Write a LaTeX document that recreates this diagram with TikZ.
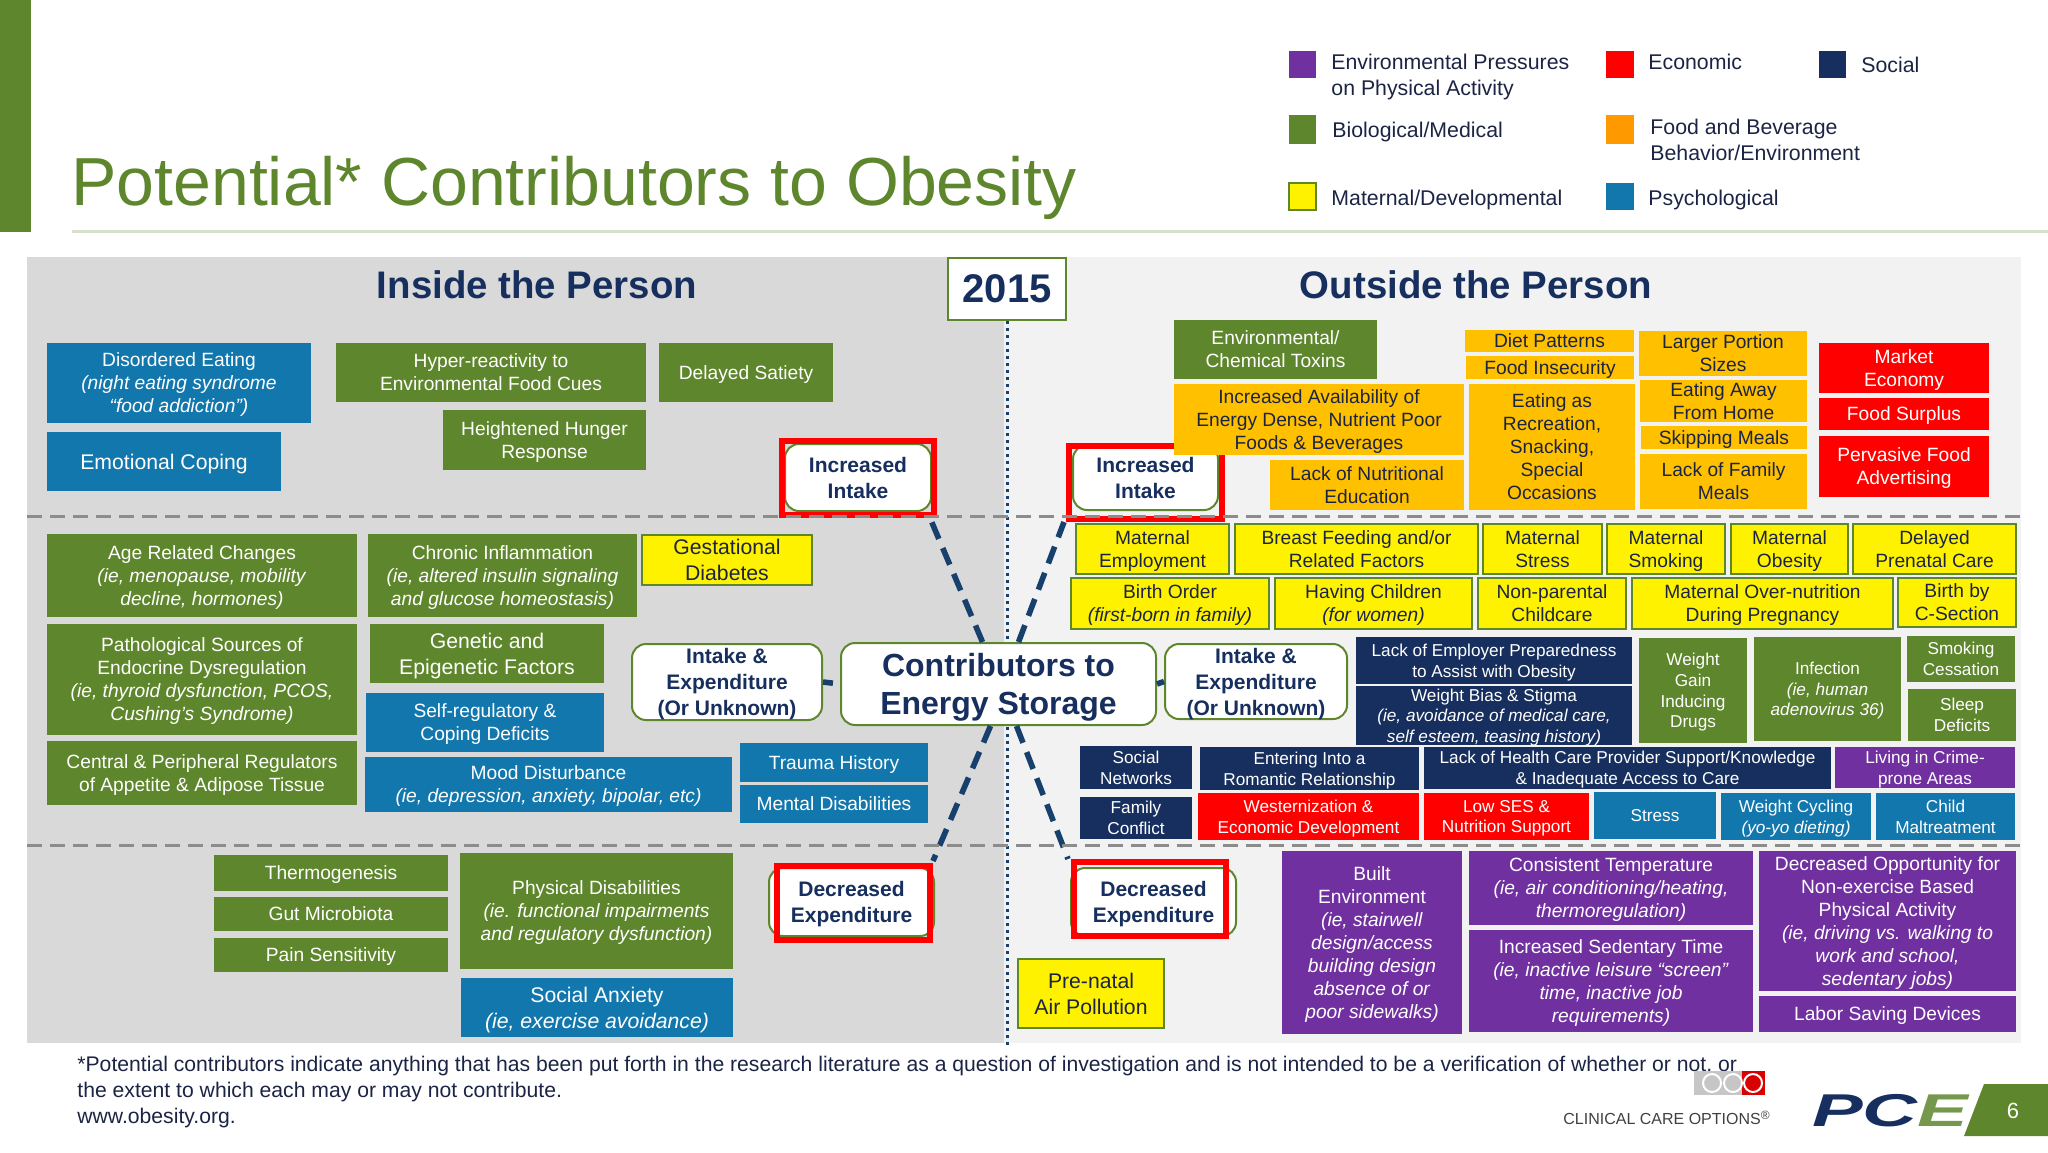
\documentclass[tikz,border=0pt]{standalone}
\usepackage{fontspec}
\usepackage{graphicx}
\setmainfont{Liberation Sans}
\definecolor{pcegreen}{HTML}{5E862C}
\definecolor{psyblue}{HTML}{1277AD}
\definecolor{socnavy}{HTML}{172F5E}
\definecolor{foodorange}{HTML}{FFC000}
\definecolor{envpurple}{HTML}{7030A0}
\definecolor{inkdark}{HTML}{1B2444}
\definecolor{linkblue}{HTML}{17406D}
\usetikzlibrary{positioning}

\begin{document}
\begin{tikzpicture}[
    x=0.5pt, y=-0.5pt,
    span/.style args={#1/#2/#3/#4}{at={({(#1+#3)/2},{(#2+#4)/2})}, minimum width={(#3-#1)*0.5pt}, minimum height={(#4-#2)*0.5pt}},
    box/.style={rectangle, inner sep=0pt, align=center, text=white, text depth=-0.5pt, font=\fontsize{9.6}{11.5}\selectfont},
    fssmall/.style={font=\fontsize{8.6}{10.3}\selectfont},
    fsbig/.style={font=\fontsize{10.6}{13}\selectfont},
    greenbox/.style={box, fill=pcegreen},
    bluebox/.style={box, fill=psyblue},
    navybox/.style={box, fill=socnavy},
    redbox/.style={box, fill=red},
    purplebox/.style={box, fill=envpurple},
    orangebox/.style={box, fill=foodorange, text=inkdark},
    yellowbox/.style={box, fill=yellow, draw=pcegreen, line width=1pt, text=inkdark},
    hub/.style={box, fill=white, draw=pcegreen, line width=1pt, rounded corners=7pt, text=socnavy, font=\fontsize{10.5}{13}\selectfont\bfseries},
    redframe/.style={rectangle, draw=red, line width=3pt, inner sep=0pt},
    swatch/.style={rectangle, inner sep=0pt},
    legendtext/.style={anchor=west, align=left, inner sep=0pt, text=inkdark, font=\fontsize{10.65}{13}\selectfont},
    headline/.style={inner sep=0pt, text=socnavy, font=\fontsize{19.2}{22}\selectfont\bfseries},
    dashlink/.style={draw=linkblue, line width=2.8pt, dash pattern=on 9pt off 5pt},
    stublink/.style={draw=linkblue, line width=2.8pt, dash pattern=on 5pt off 8pt},
    zoneline/.style={draw=gray!90, line width=1.5pt, dash pattern=on 7.5pt off 4pt}
]
\useasboundingbox (0,0) rectangle (2048,1152);

% header
\node[swatch, fill=pcegreen, span=0/0/31/232] (sidebar) {};
\node[anchor=base west, inner sep=0pt, text=pcegreen, font=\fontsize{34}{40}\selectfont] (title) at (71,205) {Potential* Contributors to Obesity};
\coordinate (ruleA) at (72,231);
\coordinate (ruleB) at (2048,231);
\draw[pcegreen!25, line width=1.5pt] (ruleA) -- (ruleB);

% legend
\node[swatch, fill=envpurple, span=1289/51/1316/78] (keyenv) {};
\node[legendtext] (keyenvtext) at (1331,77) {Environmental Pressures\\on Physical Activity};
\node[swatch, fill=red, span=1606/51/1634/78] (keyeco) {};
\node[legendtext] (keyecotext) at (1648,62) {Economic};
\node[swatch, fill=socnavy, span=1819/51/1846/78] (keysoc) {};
\node[legendtext] (keysoctext) at (1861,65) {Social};
\node[swatch, fill=pcegreen, span=1289/115/1316/144] (keybio) {};
\node[legendtext] (keybiotext) at (1332,132) {Biological/Medical};
\node[swatch, fill=orange!80!yellow, span=1606/115/1634/144] (keyfood) {};
\node[legendtext] (keyfoodtext) at (1650,140) {Food and Beverage\\Behavior/Environment};
\node[swatch, fill=yellow, draw=pcegreen, line width=1pt, span=1289/183/1316/210] (keymat) {};
\node[legendtext] (keymattext) at (1331,200) {Maternal/Developmental};
\node[swatch, fill=psyblue, span=1606/183/1634/210] (keypsy) {};
\node[legendtext] (keypsytext) at (1648,200) {Psychological};

% panels
\node[swatch, fill=gray!30, span=27/257/1004/1043] (panelin) {};
\node[swatch, fill=gray!10, span=1004/257/2021/1043] (panelout) {};
\node[headline] (insidehead) at (537,285) {Inside the Person};
\node[headline] (outsidehead) at (1476,285) {Outside the Person};
\node[box, fill=white, draw=pcegreen, line width=1pt, text=socnavy, font=\fontsize{20}{22}\selectfont\bfseries, span=948/258/1066/320] (yearbox) {2015};
\coordinate (dotend) at (1007,1046);
\draw[linkblue, line width=1.5pt, dotted] (yearbox.south) -- (dotend);

% centre
\node[hub, text depth=-1pt, font=\fontsize{16}{19}\selectfont\bfseries, span=841/643/1156/725] (contrib) {Contributors to\\Energy Storage};
\node[hub, span=632/644/822/720] (mixleft) {Intake \&\\Expenditure\\(Or Unknown)};
\node[hub, span=1165/644/1347/719] (mixright) {Intake \&\\Expenditure\\(Or Unknown)};
\node[hub, span=785/444/931/511] (intakeleft) {Increased\\Intake};
\node[hub, span=1073/445/1218/510] (intakeright) {Increased\\Intake};
\node[hub, text depth=0.5pt, span=769/868/934/936] (spendleft) {Decreased\\Expenditure};
\node[hub, text depth=0.5pt, span=1071/868/1236/936] (spendright) {Decreased\\Expenditure};
\node[redframe, span=782/441/934/515] (frameinl) {};
\node[redframe, span=1069/446/1222/519] (frameinr) {};
\node[redframe, span=777/866/930/940] (framespl) {};
\node[redframe, span=1074/862/1226/936] (framespr) {};

\draw[stublink] (mixleft.east) -- (contrib.west);
\draw[stublink] (contrib.east) -- (mixright.west);
\draw[dashlink] ([xshift=-8pt]contrib.north) -- ([xshift=-3.5pt]frameinl.south east);
\draw[dashlink] ([xshift=10pt]contrib.north) -- ([xshift=-1pt]frameinr.south west);
\draw[dashlink] ([xshift=-4pt]contrib.south) -- ([yshift=1pt]framespl.north east);
\draw[dashlink] ([xshift=9pt]contrib.south) -- ([xshift=-1.5pt]framespr.north west);

\coordinate (zoneAl) at (27,516);
\coordinate (zoneAr) at (2021,516);
\coordinate (zoneBl) at (27,845);
\coordinate (zoneBr) at (2021,845);
\draw[zoneline] (zoneAl) -- (zoneAr);
\draw[zoneline] (zoneBl) -- (zoneBr);

% inside, top
\node[bluebox, span=47/343/311/423] (disordered) {Disordered Eating\\\textit{(night eating syndrome}\\\textit{“food addiction”)}};
\node[bluebox, fsbig, span=47/432/281/491] (emotional) {Emotional Coping};
\node[greenbox, span=336/343/646/402] (hyper) {Hyper-reactivity to\\Environmental Food Cues};
\node[greenbox, span=659/343/833/402] (satiety) {Delayed Satiety};
\node[greenbox, span=443/410/646/470] (hunger) {Heightened Hunger\\Response};

% inside, middle
\node[greenbox, span=47/534/357/617] (age) {Age Related Changes\\\textit{(ie, menopause, mobility}\\\textit{decline, hormones)}};
\node[greenbox, span=368/534/637/617] (chronic) {Chronic Inflammation\\\textit{(ie, altered insulin signaling}\\\textit{and glucose homeostasis)}};
\node[yellowbox, fsbig, span=642/535/812/585] (gestational) {Gestational\\Diabetes};
\node[greenbox, span=47/624/357/735] (endocrine) {Pathological Sources of\\Endocrine Dysregulation\\\textit{(ie, thyroid dysfunction, PCOS,}\\\textit{Cushing’s Syndrome)}};
\node[greenbox, fsbig, span=370/624/604/683] (genetic) {Genetic and\\Epigenetic Factors};
\node[bluebox, span=366/693/604/752] (selfreg) {Self-regulatory \&\\Coping Deficits};
\node[greenbox, span=47/741/357/805] (central) {Central \& Peripheral Regulators\\of Appetite \& Adipose Tissue};
\node[bluebox, span=365/757/732/812] (mood) {Mood Disturbance\\\textit{(ie, depression, anxiety, bipolar, etc)}};
\node[bluebox, span=740/743/928/782] (trauma) {Trauma History};
\node[bluebox, span=740/785/928/823] (mental) {Mental Disabilities};

% inside, bottom
\node[greenbox, span=214/855/448/891] (thermo) {Thermogenesis};
\node[greenbox, span=214/897/448/931] (gut) {Gut Microbiota};
\node[greenbox, span=214/938/448/972] (pain) {Pain Sensitivity};
\node[greenbox, span=460/853/733/969] (physdis) {Physical Disabilities\\\textit{(ie. functional impairments}\\\textit{and regulatory dysfunction)}};
\node[bluebox, fsbig, span=461/978/733/1037] (anxiety) {Social Anxiety\\\textit{(ie, exercise avoidance)}};

% outside, top
\node[greenbox, span=1174/320/1377/379] (toxins) {Environmental/\\Chemical Toxins};
\node[orangebox, span=1174/384/1464/455] (availability) {Increased Availability of\\Energy Dense, Nutrient Poor\\Foods \& Beverages};
\node[orangebox, span=1270/460/1464/510] (nutrition) {Lack of Nutritional\\Education};
\node[orangebox, span=1465/330/1634/352] (diet) {Diet Patterns};
\node[orangebox, span=1466/356/1634/379] (insecurity) {Food Insecurity};
\node[orangebox, span=1469/384/1635/510] (recreation) {Eating as\\Recreation,\\Snacking,\\Special\\Occasions};
\node[orangebox, span=1639/331/1807/376] (portion) {Larger Portion\\Sizes};
\node[orangebox, span=1640/380/1807/422] (away) {Eating Away\\From Home};
\node[orangebox, span=1641/426/1807/449] (skipping) {Skipping Meals};
\node[orangebox, span=1640/454/1807/509] (family) {Lack of Family\\Meals};
\node[redbox, span=1819/343/1989/393] (market) {Market\\Economy};
\node[redbox, span=1819/398/1989/430] (surplus) {Food Surplus};
\node[redbox, span=1819/436/1989/497] (pervasive) {Pervasive Food\\Advertising};

% outside, maternal
\node[yellowbox, span=1076/524/1229/574] (employment) {Maternal\\Employment};
\node[yellowbox, span=1235/524/1478/574] (breast) {Breast Feeding and/or\\Related Factors};
\node[yellowbox, span=1483/524/1602/574] (matstress) {Maternal\\Stress};
\node[yellowbox, span=1607/524/1725/574] (matsmoking) {Maternal\\Smoking};
\node[yellowbox, span=1731/524/1848/574] (matobesity) {Maternal\\Obesity};
\node[yellowbox, span=1853/524/2016/574] (prenatal) {Delayed\\Prenatal Care};
\node[yellowbox, span=1071/578/1269/629] (birthorder) {Birth Order\\\textit{(first-born in family)}};
\node[yellowbox, span=1275/578/1472/629] (children) {Having Children\\\textit{(for women)}};
\node[yellowbox, span=1478/578/1626/629] (childcare) {Non-parental\\Childcare};
\node[yellowbox, span=1632/578/1893/629] (overnutrition) {Maternal Over-nutrition\\During Pregnancy};
\node[yellowbox, span=1898/578/2016/627] (csection) {Birth by\\C-Section};

% outside, middle
\node[navybox, fssmall, span=1356/637/1632/684] (employer) {Lack of Employer Preparedness\\to Assist with Obesity};
\node[navybox, fssmall, span=1356/686/1632/745] (bias) {Weight Bias \& Stigma\\\textit{(ie, avoidance of medical care,}\\\textit{self esteem, teasing history)}};
\node[greenbox, fssmall, span=1639/638/1747/743] (drugs) {Weight\\Gain\\Inducing\\Drugs};
\node[greenbox, fssmall, span=1754/637/1901/741] (infection) {Infection\\\textit{(ie, human}\\\textit{adenovirus 36)}};
\node[greenbox, fssmall, span=1907/636/2015/682] (cessation) {Smoking\\Cessation};
\node[greenbox, fssmall, span=1908/689/2016/741] (sleep) {Sleep\\Deficits};
\node[navybox, fssmall, span=1080/746/1192/789] (networks) {Social\\Networks};
\node[navybox, fssmall, span=1200/747/1419/790] (romantic) {Entering Into a\\Romantic Relationship};
\node[navybox, fssmall, span=1424/747/1831/789] (provider) {Lack of Health Care Provider Support/Knowledge\\\& Inadequate Access to Care};
\node[purplebox, fssmall, span=1835/747/2015/788] (crime) {Living in Crime-\\prone Areas};
\node[navybox, fssmall, span=1080/797/1192/839] (conflict) {Family\\Conflict};
\node[redbox, fssmall, span=1198/793/1419/840] (western) {Westernization \&\\Economic Development};
\node[redbox, fssmall, span=1424/793/1589/840] (lowses) {Low SES \&\\Nutrition Support};
\node[bluebox, fssmall, span=1594/792/1716/839] (stress) {Stress};
\node[bluebox, fssmall, span=1721/793/1871/840] (cycling) {Weight Cycling\\\textit{(yo-yo dieting)}};
\node[bluebox, fssmall, span=1876/793/2015/840] (maltreat) {Child\\Maltreatment};

% outside, bottom
\node[yellowbox, fsbig, span=1018/959/1164/1028] (airpollution) {Pre-natal\\Air Pollution};
\node[purplebox, span=1282/851/1462/1034] (built) {Built\\Environment\\\textit{(ie, stairwell}\\\textit{design/access}\\\textit{building design}\\\textit{absence of or}\\\textit{poor sidewalks)}};
\node[purplebox, span=1469/851/1753/925] (temperature) {Consistent Temperature\\\textit{(ie, air conditioning/heating,}\\\textit{thermoregulation)}};
\node[purplebox, span=1469/930/1753/1032] (sedentary) {Increased Sedentary Time\\\textit{(ie, inactive leisure “screen”}\\\textit{time, inactive job}\\\textit{requirements)}};
\node[purplebox, span=1759/851/2016/991] (opportunity) {Decreased Opportunity for\\Non-exercise Based\\Physical Activity\\\textit{(ie, driving vs. walking to}\\\textit{work and school,}\\\textit{sedentary jobs)}};
\node[purplebox, span=1759/996/2016/1032] (labor) {Labor Saving Devices};

% footer
\node[anchor=west, align=left, inner sep=0pt, text=inkdark, font=\fontsize{10.58}{13}\selectfont] (footnote) at (77,1092) {*Potential contributors indicate anything that has been put forth in the research literature as a question of investigation and is not intended to be a verification of whether or not, or\\the extent to which each may or may not contribute.\\www.obesity.org.};

% logos
\node[swatch, fill=gray!45, span=1694/1071/1742/1095] (ccogrey) {};
\node[swatch, fill=red!85!black, span=1742/1071/1765/1095] (ccored) {};
\draw[white, line width=1pt] (1712,1083) circle (9);
\draw[white, line width=1pt] (1733,1083) circle (9);
\draw[white, line width=1pt] (1753,1083) circle (9);
\node[inner sep=0pt, text=black!75, font=\fontsize{8}{9}\selectfont] (cconame) at (1667,1118) {CLINICAL CARE OPTIONS\textsuperscript{®}};
\node[inner sep=0pt, font=\fontsize{23}{24}\selectfont\bfseries\itshape] (pcelogo) at (1890,1111) {\scalebox{1.65}[1]{\textcolor{socnavy}{PC}\textcolor{pcegreen!85!white}{E}}};
\fill[pcegreen] (1964,1136) -- (1984,1084) -- (2048,1084) -- (2048,1136) -- cycle;
\node[inner sep=0pt, text=white, font=\fontsize{11}{12}\selectfont] (pagenum) at (2013,1111) {6};

\end{tikzpicture}
\end{document}
